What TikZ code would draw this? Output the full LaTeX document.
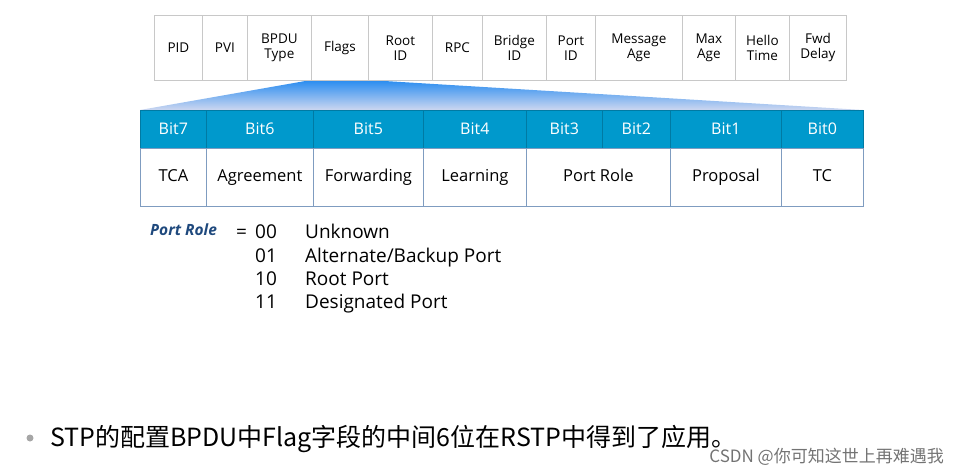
\documentclass[tikz,border=0pt]{standalone}
\usepackage{fontspec}
\setmainfont{Open Sans}
\newfontfamily\cjk{Noto Sans CJK SC}
\usetikzlibrary{positioning}
\definecolor{hdr}{RGB}{0,153,204}
\definecolor{grline}{RGB}{200,200,200}
\definecolor{blline}{RGB}{127,156,192}
\definecolor{gradtop}{RGB}{40,140,240}
\definecolor{gradbot}{RGB}{205,215,240}
\definecolor{prole}{RGB}{31,73,125}
\tikzset{
 topcell/.style={draw=grline,line width=0.8pt,inner sep=0pt,font=\fontsize{13.5}{15}\selectfont,align=center},
 bitcell/.style={draw=hdr!80!black,line width=0.6pt,fill=hdr,text=white,inner sep=0pt,text height=11pt,text depth=0pt,font=\fontsize{16}{18}\selectfont},
 fcell/.style={draw=blline,line width=0.8pt,fill=white,inner sep=0pt,text height=12pt,text depth=3pt,font=\fontsize{16.5}{18}\selectfont},
 legend/.style={anchor=base west,inner sep=0pt,font=\fontsize{19}{22}\selectfont},
}
\begin{document}
\begin{tikzpicture}[x=1pt,y=-1pt]
\useasboundingbox (0,0) rectangle (959,475);
% gradient trapezoid
\shade[top color=gradtop,bottom color=gradbot] (311,80) -- (368,80) -- (863,110) -- (140,110) -- cycle;
% top row
\foreach \a/\b/\t [count=\i] in {154/202/PID,202/247/PVI,247/311/{BPDU\\Type},311/368/Flags,368/432/{Root\\ID},432/482/RPC,482/546/{Bridge\\ID},546/595/{Port\\ID},595/682/{Message\\Age},682/735/{Max\\Age},735/789/{Hello\\Time},789/846/{Fwd\\Delay}}{
 \node[topcell,minimum width=\b-\a,minimum height=65,anchor=north west] (t\i) at (\a,15) {\t};
}
% bit row
\foreach \a/\b/\t [count=\i] in {140/206/Bit7,206/313/Bit6,313/423/Bit5,423/526/Bit4,526/602/Bit3,602/670/Bit2,670/781/Bit1,781/863/Bit0}{
 \node[bitcell,minimum width=\b-\a,minimum height=38,anchor=north west] (b\i) at (\a,110) {\t};
}
\foreach \a/\b/\t [count=\i] in {140/206/TCA,206/313/Agreement,313/423/Forwarding,423/526/Learning,526/670/Port Role,670/781/Proposal,781/863/TC}{
 \node[fcell,minimum width=\b-\a,minimum height=58,anchor=north west] (f\i) at (\a,148) {\t};
}
% legend
\node[legend,font=\fontsize{15.5}{17}\selectfont\bfseries\itshape,text=prole] (pr) at (150,235) {Port Role};
\node[legend] (eq) at (236,238) {=};
\node[legend] (n0) at (255,238) {00};
\node[legend] (n1) at (255,262) {01};
\node[legend] (n2) at (255,285) {10};
\node[legend] (n3) at (255,308) {11};
\node[legend] (w0) at (305,238) {Unknown};
\node[legend] (w1) at (305,262) {Alternate/Backup Port};
\node[legend] (w2) at (305,285) {Root Port};
\node[legend] (w3) at (305,308) {Designated Port};
% bullet
\fill[gray!70] (30,438) circle (3.5);
\node[legend,font=\cjk\fontsize{25}{28}\selectfont] (bul) at (50,446) {STP的配置BPDU中Flag字段的中间6位在RSTP中得到了应用。};
\node[anchor=base east,inner sep=0pt,text=gray!90!black,font=\cjk\fontsize{17}{19}\selectfont] (wm) at (944,462) {CSDN @你可知这世上再难遇我};
\end{tikzpicture}
\end{document}
